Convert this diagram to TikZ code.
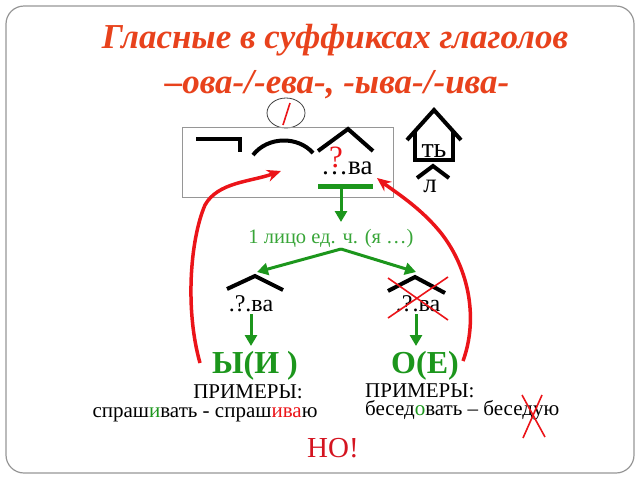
\documentclass[tikz,border=0pt]{standalone}
\usepackage{fontspec}
\setmainfont{Liberation Serif}
\usetikzlibrary{arrows.meta,shapes.geometric}
\definecolor{titlered}{RGB}{232,66,28}
\definecolor{arrred}{RGB}{235,20,25}
\definecolor{dgreen}{RGB}{28,150,28}
\definecolor{lgreen}{RGB}{56,165,56}
\definecolor{nored}{RGB}{212,20,32}
\definecolor{framegray}{RGB}{150,150,150}
\begin{document}
\begin{tikzpicture}[x=1pt,y=-1pt,
  txt/.style={inner sep=0pt, anchor=base},
  titlefont/.style={txt, text=titlered, font=\fontsize{35}{40}\selectfont\bfseries\itshape},
  morph/.style={line width=4pt, black, line cap=butt, line join=miter},
  garrow/.style={draw=dgreen, line width=3pt, -{Triangle[length=11pt,width=12pt]}},
  rarrow/.style={draw=arrred, line width=3.5pt, -{Stealth[length=14pt,width=12pt]}},
  crossline/.style={draw=arrred, line width=1.6pt},
  bigletter/.style={txt, text=dgreen, font=\fontsize{32}{36}\selectfont\bfseries},
  exfont/.style={txt, font=\fontsize{21}{24}\selectfont}
]
\useasboundingbox (0,0) rectangle (640,480);
\draw[framegray, line width=1.2pt, rounded corners=18pt] (6,6) rectangle (634,473);

% title
\node[titlefont] (t1) at (335,48) {Гласные в суффиксах глаголов};
\node[titlefont] (t2) at (337,93) {–ова-/-ева-, -ыва-/-ива-};

% circle with slash
\node[draw=black!75, line width=0.8pt, ellipse, minimum width=38pt, minimum height=30pt, inner sep=0pt] (circ) at (286,113) {};
\draw[arrred, line width=1.6pt] (283,125) -- (290,103);

% word box
\node[draw=framegray, line width=1pt, minimum width=211pt, minimum height=70pt, inner sep=0pt, anchor=north west] (box) at (182,127) {};
\draw[morph] (196,139) -- (240,139) -- (240,152);
\draw[morph] (253,155) .. controls (268,136) and (298,136) .. (313,153);
\draw[morph] (318,151) -- (348,129) -- (373,151);
\node[txt, font=\fontsize{27}{30}\selectfont, anchor=base west] (suf) at (321,174) {…ва};
\node[txt, text=arrred, font=\fontsize{31}{34}\selectfont] (q) at (336,167) {?};

% ending (house)
\draw[morph] (407,140) -- (434,110) -- (461,140);
\draw[morph] (415,131) -- (415,160) -- (453,160) -- (453,131);
\node[txt, font=\fontsize{28}{30}\selectfont] (end) at (434,157) {ть};
\draw[morph] (417,178) -- (433,166) -- (449,178);
\node[txt, font=\fontsize{27}{30}\selectfont] (l) at (430,192) {л};

% green T and stem
\draw[dgreen, line width=5pt] (318,186) -- (373,186);
\coordinate (tstem) at (341,186);
\node[txt, text=lgreen, font=\fontsize{20.5}{24}\selectfont] (lico) at (331,243) {1 лицо ед. ч. (я …)};
\coordinate (lsTop) at (341,222);
\draw[garrow] (tstem) -- (lsTop);
\coordinate (fork) at (341,249);
\coordinate (ltip) at (257,272);
\coordinate (rtip) at (416,272);
\draw[garrow] (fork) -- (ltip);
\draw[garrow] (fork) -- (rtip);

% left branch
\draw[morph] (227,289) -- (255,276) -- (283,290);
\node[txt, font=\fontsize{24}{26}\selectfont] (lva) at (251,311) {.?.ва};
% right branch
\draw[morph] (388,291) -- (415,277) -- (445,293);
\node[txt, font=\fontsize{24}{26}\selectfont] (rva) at (418,311) {.?.ва};
\draw[crossline] (388,278) -- (448,320);
\draw[crossline] (448,277) -- (388,318);

% down arrows
\coordinate (lA) at (251,314);
\coordinate (lB) at (251,346);
\coordinate (rA) at (416,314);
\coordinate (rB) at (416,346);
\draw[garrow] (lA) -- (lB);
\draw[garrow] (rA) -- (rB);

\node[bigletter] (yi) at (255,373) {Ы(И )};
\node[bigletter] (oe) at (425,373) {О(Е)};

% examples
\node[exfont] (pl) at (248,398) {ПРИМЕРЫ:};
\node[exfont] (el) at (205,417) {спраш{\color{dgreen}и}вать - спраш{\color{arrred}ива}ю};
\node[exfont, anchor=base west] (pr) at (365,397) {ПРИМЕРЫ:};
\node[exfont, anchor=base west] (er) at (365,415) {бесед{\color{dgreen}о}вать – беседую};
\draw[crossline] (522,395) -- (545,437);
\draw[crossline] (542,395) -- (523,438);

\node[txt, text=nored, font=\fontsize{29}{32}\selectfont] (no) at (333,457) {НО!};

% red curved arrows
\coordinate (la0) at (200,363);
\coordinate (la1) at (205,205);
\coordinate (la2) at (281,171);
\draw[rarrow] (la0) .. controls (185,310) and (190,240) .. (la1) .. controls (218,182) and (250,182) .. (la2);
\coordinate (ra0) at (463,361);
\coordinate (ra1) at (441,233);
\coordinate (ra2) at (377,178);
\draw[rarrow] (ra0) .. controls (478,320) and (470,270) .. (ra1) .. controls (420,207) and (395,192) .. (ra2);
\end{tikzpicture}
\end{document}
